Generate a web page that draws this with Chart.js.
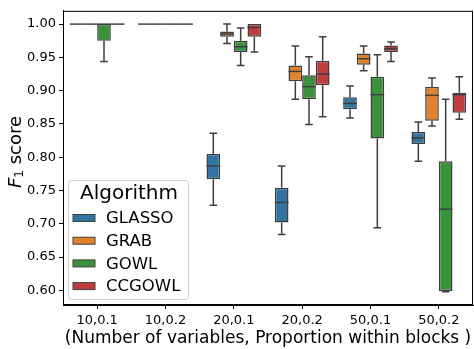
<!DOCTYPE html>
<html>
<head>
<meta charset="utf-8">
<script src="https://cdn.jsdelivr.net/npm/chart.js@4.4.0/dist/chart.umd.min.js"></script>
<style>
  html, body { margin: 0; padding: 0; background: #fff; }
  #wrap { width: 474px; height: 349px; }
</style>
</head>
<body>
<div id="wrap"><canvas id="boxChart"></canvas></div>
<script>
// categorias: (número de variáveis, proporção dentro dos blocos)
const categories = ['10,0.1', '10,0.2', '20,0.1', '20,0.2', '50,0.1', '50,0.2'];
const algorithms = ['GLASSO', 'GRAB', 'GOWL', 'CCGOWL'];
const yTicks = [0.60, 0.65, 0.70, 0.75, 0.80, 0.85, 0.90, 0.95, 1.00];

// cada item: [mín, Q1, mediana, Q3, máx]
const glasso = [
    [1.0, 1.0, 1.0, 1.0, 1.0],
    [1.0, 1.0, 1.0, 1.0, 1.0],
    [0.728, 0.767, 0.787, 0.805, 0.836],
    [0.684, 0.702, 0.732, 0.754, 0.787],
    [0.859, 0.872, 0.881, 0.890, 0.907],
    [0.794, 0.820, 0.829, 0.838, 0.853]
];
const grab = [
    [1.0, 1.0, 1.0, 1.0, 1.0],
    [1.0, 1.0, 1.0, 1.0, 1.0],
    [0.971, 0.981, 0.985, 0.989, 1.0],
    [0.887, 0.914, 0.929, 0.938, 0.967],
    [0.930, 0.939, 0.948, 0.956, 0.967],
    [0.847, 0.855, 0.893, 0.906, 0.919]
];
const gowl = [
    [0.944, 0.975, 1.0, 1.0, 1.0],
    [1.0, 1.0, 1.0, 1.0, 1.0],
    [0.938, 0.958, 0.966, 0.975, 0.994],
    [0.849, 0.887, 0.906, 0.923, 0.951],
    [0.694, 0.828, 0.894, 0.921, 0.954],
    [0.598, 0.599, 0.722, 0.794, 0.887]
];
const ccgowl = [
    [1.0, 1.0, 1.0, 1.0, 1.0],
    [1.0, 1.0, 1.0, 1.0, 1.0],
    [0.958, 0.981, 0.995, 1.0, 1.0],
    [0.861, 0.908, 0.925, 0.945, 0.981],
    [0.944, 0.958, 0.963, 0.968, 0.973],
    [0.857, 0.867, 0.894, 0.897, 0.921]
];

const seriesStats = [glasso, grab, gowl, ccgowl];
const colors = ['#3274a1', '#e1812c', '#3a923a', '#c03d3e'];
const edgeColor = '#3f3f3f';
const FONT = "'DejaVu Sans', sans-serif";

// bigodes e medianas desenhados sobre as barras flutuantes (Q1..Q3)
const boxPlugin = {
    id: 'boxWhiskers',
    beforeDatasetsDraw(chart) {
        const ctx = chart.ctx;
        const y = chart.scales.y;
        ctx.save();
        ctx.strokeStyle = edgeColor;
        ctx.lineWidth = 1.5;
        chart.data.datasets.forEach((ds, i) => {
            const meta = chart.getDatasetMeta(i);
            meta.data.forEach((bar, j) => {
                const s = seriesStats[i][j];
                const cap = bar.width * 0.28;
                const yMin = y.getPixelForValue(s[0]);
                const yQ1 = y.getPixelForValue(s[1]);
                const yQ3 = y.getPixelForValue(s[3]);
                const yMax = y.getPixelForValue(s[4]);
                ctx.beginPath();
                if (s[0] < s[1]) {
                    ctx.moveTo(bar.x, yQ1); ctx.lineTo(bar.x, yMin);
                    ctx.moveTo(bar.x - cap, yMin); ctx.lineTo(bar.x + cap, yMin);
                }
                if (s[4] > s[3]) {
                    ctx.moveTo(bar.x, yQ3); ctx.lineTo(bar.x, yMax);
                    ctx.moveTo(bar.x - cap, yMax); ctx.lineTo(bar.x + cap, yMax);
                }
                ctx.stroke();
            });
        });
        ctx.restore();
    },
    afterDatasetsDraw(chart) {
        const ctx = chart.ctx;
        const y = chart.scales.y;
        ctx.save();
        ctx.strokeStyle = edgeColor;
        ctx.lineWidth = 1.5;
        chart.data.datasets.forEach((ds, i) => {
            const meta = chart.getDatasetMeta(i);
            meta.data.forEach((bar, j) => {
                const yMed = y.getPixelForValue(seriesStats[i][j][2]);
                ctx.beginPath();
                ctx.moveTo(bar.x - bar.width / 2, yMed);
                ctx.lineTo(bar.x + bar.width / 2, yMed);
                ctx.stroke();
            });
        });
        ctx.restore();
    },
    afterDraw(chart) {
        const ctx = chart.ctx;
        const a = chart.chartArea;
        ctx.save();

        // moldura do gráfico
        ctx.strokeStyle = '#000';
        ctx.lineWidth = 1;
        ctx.strokeRect(a.left + 0.5, a.top + 0.5, a.right - a.left - 1, a.bottom - a.top - 1);

        // título do eixo Y: F₁ score
        ctx.translate(16, 152);
        ctx.rotate(-Math.PI / 2);
        ctx.fillStyle = '#000';
        ctx.textBaseline = 'middle';
        ctx.textAlign = 'left';
        const parts = [
            { t: 'F', f: "italic 18px " + FONT, dy: 0 },
            { t: '1', f: "12px " + FONT, dy: 4 },
            { t: ' score', f: "18px " + FONT, dy: 0 }
        ];
        let total = 0;
        parts.forEach(p => { ctx.font = p.f; p.w = ctx.measureText(p.t).width; total += p.w; });
        let x = -total / 2;
        parts.forEach(p => { ctx.font = p.f; ctx.fillText(p.t, x, p.dy); x += p.w; });
        ctx.restore();

        // legenda com título "Algorithm"
        ctx.save();
        const lx = 68, ly = 180, lw = 120, lh = 119;
        ctx.fillStyle = 'rgba(255,255,255,0.85)';
        ctx.strokeStyle = '#cccccc';
        ctx.lineWidth = 1;
        ctx.beginPath();
        ctx.roundRect(lx + 0.5, ly + 0.5, lw, lh, 3);
        ctx.fill();
        ctx.stroke();
        ctx.fillStyle = '#000';
        ctx.textBaseline = 'middle';
        ctx.textAlign = 'center';
        ctx.font = "20px " + FONT;
        ctx.fillText('Algorithm', lx + lw / 2 + 1, ly + 14);
        ctx.textAlign = 'left';
        ctx.font = "16.5px " + FONT;
        algorithms.forEach((name, i) => {
            const cy = ly + 38 + i * 22.7;
            ctx.fillStyle = colors[i];
            ctx.fillRect(lx + 5, cy - 3.5, 22, 7);
            ctx.strokeStyle = edgeColor;
            ctx.strokeRect(lx + 5, cy - 3.5, 22, 7);
            ctx.fillStyle = '#000';
            ctx.fillText(name, lx + 38, cy + 1);
        });
        ctx.restore();
    }
};

const datasets = algorithms.map((name, i) => ({
    label: name,
    data: seriesStats[i].map(s => [s[1], s[3]]),
    backgroundColor: colors[i],
    borderColor: edgeColor,
    // caixa degenerada (Q1 == Q3) fica só com a linha da mediana
    borderWidth: (c) => {
        const s = seriesStats[i][c.dataIndex];
        return s && s[1] === s[3] ? 0 : 1.5;
    },
    borderSkipped: false,
    barPercentage: 1.0,
    categoryPercentage: 0.8
}));

new Chart(document.getElementById('boxChart'), {
    type: 'bar',
    data: { labels: categories, datasets: datasets },
    options: {
        responsive: true,
        maintainAspectRatio: false,
        animation: false,
        layout: { padding: { top: 1, right: 1, left: 0, bottom: 0 } },
        plugins: { legend: { display: false }, tooltip: { enabled: false } },
        scales: {
            x: {
                grid: { display: true, offset: false, drawOnChartArea: false, drawTicks: true, tickLength: 4, tickColor: '#000' },
                border: { display: true, color: '#000' },
                ticks: { color: '#000', font: { family: FONT, size: 13 }, padding: 4, maxRotation: 0 },
                title: {
                    display: true,
                    text: '(Number of variables, Proportion within blocks )',
                    color: '#000',
                    font: { family: FONT, size: 17 },
                    padding: { top: 0, bottom: 0 }
                },
                afterFit: (scale) => { scale.height = 44; }
            },
            y: {
                min: 0.578,
                max: 1.02,
                grid: { display: true, drawOnChartArea: false, drawTicks: true, tickLength: 4, tickColor: '#000' },
                border: { display: true, color: '#000' },
                ticks: {
                    color: '#000',
                    font: { family: FONT, size: 13 },
                    padding: 3,
                    callback: (v) => v.toFixed(2)
                },
                afterBuildTicks: (scale) => { scale.ticks = yTicks.map(v => ({ value: v })); },
                afterFit: (scale) => { scale.width = 63; }
            }
        }
    },
    plugins: [boxPlugin]
});
</script>
</body>
</html>
